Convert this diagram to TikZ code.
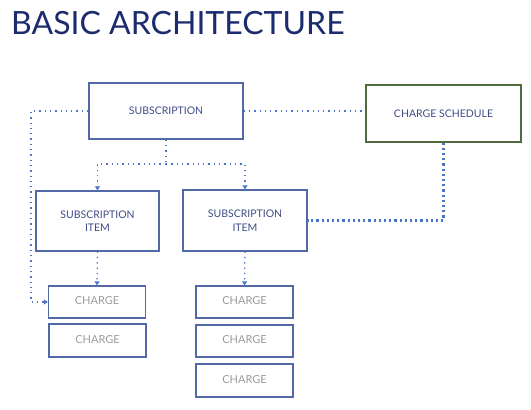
\documentclass[tikz,border=0pt]{standalone}
\usepackage{fontspec}
\setmainfont{Lato}
\usetikzlibrary{arrows.meta}
\definecolor{titleblue}{HTML}{1C2A6E}
\definecolor{boxblue}{HTML}{5169A6}
\definecolor{textblue}{HTML}{3E4C86}
\definecolor{dotblue}{HTML}{4C74C8}
\definecolor{schedgreen}{HTML}{4E6B3E}
\definecolor{chargegray}{HTML}{9A9A9A}
\tikzset{
  box/.style={draw=boxblue, line width=1.3pt, align=center, inner sep=0pt,
    text=textblue, font=\fontsize{10.5}{13.5}\selectfont},
  chargebox/.style={box, minimum width=97pt, minimum height=32pt,
    text=chargegray, font=\fontsize{11}{13}\selectfont},
  link/.style={draw=dotblue, line width=1.3pt, dash pattern=on 1.3pt off 4pt},
  boldlink/.style={link, line width=2.2pt, dash pattern=on 2.2pt off 3pt},
  tip/.style={-{Triangle[length=4pt,width=5pt]}}
}
\begin{document}
\begin{tikzpicture}[x=1pt,y=-1pt]
      \useasboundingbox (0,0) rectangle (531,410);
      % title
      \node[anchor=base west, inner sep=0pt, text=titleblue,
        font=\fontsize{32}{34}\selectfont] (title) at (11,34) {BASIC ARCHITECTURE};
      % boxes
      \node[box, minimum width=154pt, minimum height=56pt] (sub) at (166,111) {SUBSCRIPTION};
      \node[box, draw=schedgreen, minimum width=155pt, minimum height=57pt] (sched) at (443.5,113.5) {CHARGE SCHEDULE};
      \node[box, minimum width=123pt, minimum height=60pt] (item1) at (97.5,221) {SUBSCRIPTION\\ITEM};
      \node[box, minimum width=124pt, minimum height=61pt] (item2) at (245,220.5) {SUBSCRIPTION\\ITEM};
      \node[chargebox] (chA1) at (97,302) {\raisebox{2pt}{CHARGE}};
      \node[chargebox, minimum height=33pt] (chA2) at (97.5,340.5) {\raisebox{2pt}{CHARGE}};
      \node[chargebox] (chB1) at (244.5,302) {\raisebox{2pt}{CHARGE}};
      \node[chargebox] (chB2) at (244.5,341) {\raisebox{2pt}{CHARGE}};
      \node[chargebox, minimum height=33pt] (chB3) at (244.5,380.5) {\raisebox{2pt}{CHARGE}};
      % connectors
      \coordinate (split) at (166,164);
      \coordinate (bendL) at (31,302);
      \draw[link] (sub.south) -- (split);
      \draw[link, tip] (split) -| (item1.north);
      \draw[link, tip] (split) -| (item2.north);
      \draw[link, tip] (sub.west) -| (bendL) -- (chA1.west);
      \draw[link] (sub.east) -- (sub.east -| sched.west);
      \draw[boldlink] (sched.south) |- (item2.east);
      \draw[link, tip] (item1.south) -- (chA1.north);
      \draw[link, tip] (item2.south) -- (chB1.north);
\end{tikzpicture}
\end{document}
